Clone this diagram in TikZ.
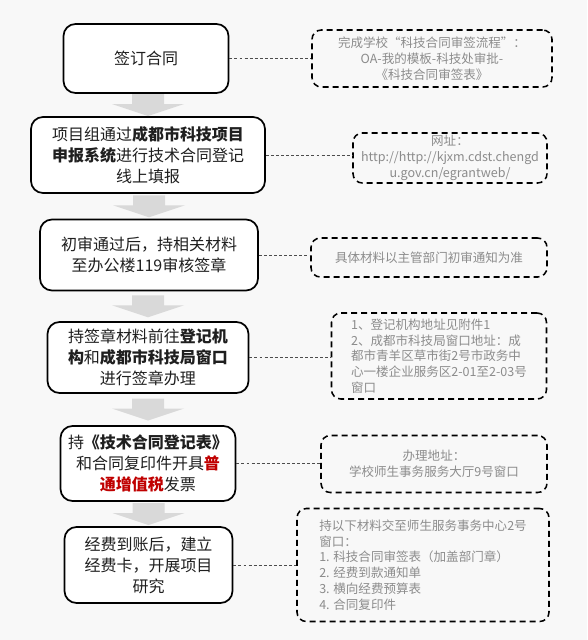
\documentclass[tikz,border=0pt]{standalone}
\usepackage{fontspec}
\setmainfont{Noto Sans CJK SC}
\usetikzlibrary{positioning, calc}

\definecolor{bggray}{HTML}{F8F8F8}
\definecolor{arrowgray}{HTML}{D9D9D9}
\definecolor{notegray}{HTML}{8C8C8C}
\definecolor{taxred}{HTML}{C00000}

% grey block arrow centred in the gap between two stages
\newcommand{\flowarrow}[2]{%
  \fill[arrowgray] let \p1=(#1.south), \p2=(#2.north), \n1={(\y1+\y2)/2} in
    (\x2-12pt,\n1+8.25pt) -- (\x2+12pt,\n1+8.25pt) -- (\x2+12pt,\n1+0.75pt)
    -- (\x2+27pt,\n1+0.75pt) -- (\x2,\n1-8.25pt) -- (\x2-27pt,\n1+0.75pt)
    -- (\x2-12pt,\n1+0.75pt) -- cycle;}

\begin{document}
\begin{tikzpicture}[
        x=0.75pt, y=-0.75pt,
        stage/.style={rectangle, rounded corners=9pt, draw=black, line width=1.3pt, fill=white, align=center, inner sep=0pt, text=black!88, font=\fontsize{12}{15.75}\selectfont},
        note/.style={rectangle, rounded corners=7pt, draw=black, line width=1.15pt, dash pattern=on 4.5pt off 3pt, inner sep=0pt, text=notegray, font=\fontsize{9.4}{11.8}\selectfont},
        link/.style={draw=black!70, line width=0.6pt, dash pattern=on 2.2pt off 1.6pt}
    ]

    \fill[bggray] (0,0) rectangle (587,640);

    % Stages
    \node (sign) [stage, minimum width=123.75pt, minimum height=51.75pt] at (146,58.5) {签订合同};
    \node (online) [stage, minimum width=175.5pt, minimum height=57pt] at (148,155) {项目组通过\textbf{成都市科技项目}\\\textbf{申报系统}进行技术合同登记\\线上填报};
    \node (review) [stage, minimum width=163.5pt, minimum height=53.25pt] at (149,255) {初审通过后，持相关材料\\至办公楼119审核签章};
    \node (register) [stage, minimum width=150.75pt, minimum height=53.25pt] at (148,357.5) {持签章材料前往\textbf{登记机}\\\textbf{构}和\textbf{成都市科技局窗口}\\进行签章办理};
    \node (invoice) [stage, minimum width=131.25pt, minimum height=56.25pt] at (148,463.5) {持\textbf{《技术合同登记表》}\\和合同复印件开具\textcolor{taxred}{\textbf{普}}\\\textcolor{taxred}{\textbf{通增值税}}发票};
    \node (funds) [stage, minimum width=126pt, minimum height=57pt] at (148.5,565) {经费到账后，建立\\经费卡，开展项目\\研究};

    % Notes
    \node (signnote) [note, align=center, minimum width=180pt, minimum height=42.75pt] at (432,58.5) {完成学校“科技合同审签流程”：\\OA-我的模板-科技处审批-\\《科技合同审签表》};
    \node (onlinenote) [note, align=center, minimum width=145.5pt, minimum height=37.5pt] at (450,158) {网址：\\http://http://kjxm.cdst.chengd\\u.gov.cn/egrantweb/};
    \node (reviewnote) [note, align=center, minimum width=177pt, minimum height=29.25pt] at (429,257.5) {具体材料以主管部门初审通知为准};
    \node (registernote) [note, align=left, minimum width=161.25pt, minimum height=64.5pt] at (439,356) {1、登记机构地址见附件1\\2、成都市科技局窗口地址：成\\都市青羊区草市街2号市政务中\\心一楼企业服务区2-01至2-03号\\窗口};
    \node (invoicenote) [note, align=center, minimum width=169.5pt, minimum height=42.75pt] at (434,464) {办理地址：\\学校师生事务服务大厅9号窗口};
    \node (fundsnote) [note, align=left, minimum width=189pt, minimum height=84.75pt] at (423,565) {持以下材料交至师生服务事务中心2号\\窗口：\\1. 科技合同审签表（加盖部门章）\\2. 经费到款通知单\\3. 横向经费预算表\\4. 合同复印件};

    % Flow
    \flowarrow{sign}{online}
    \flowarrow{online}{review}
    \flowarrow{review}{register}
    \flowarrow{register}{invoice}
    \flowarrow{invoice}{funds}

    % Links to notes
    \draw [link] (sign.east) -- (sign.east -| signnote.west);
    \draw [link] (online.east) -- (online.east -| onlinenote.west);
    \draw [link] (review.east) -- (review.east -| reviewnote.west);
    \draw [link] (register.east) -- (register.east -| registernote.west);
    \draw [link] (invoice.east) -- (invoice.east -| invoicenote.west);
    \draw [link] (funds.east) -- (funds.east -| fundsnote.west);

\end{tikzpicture}
\end{document}
